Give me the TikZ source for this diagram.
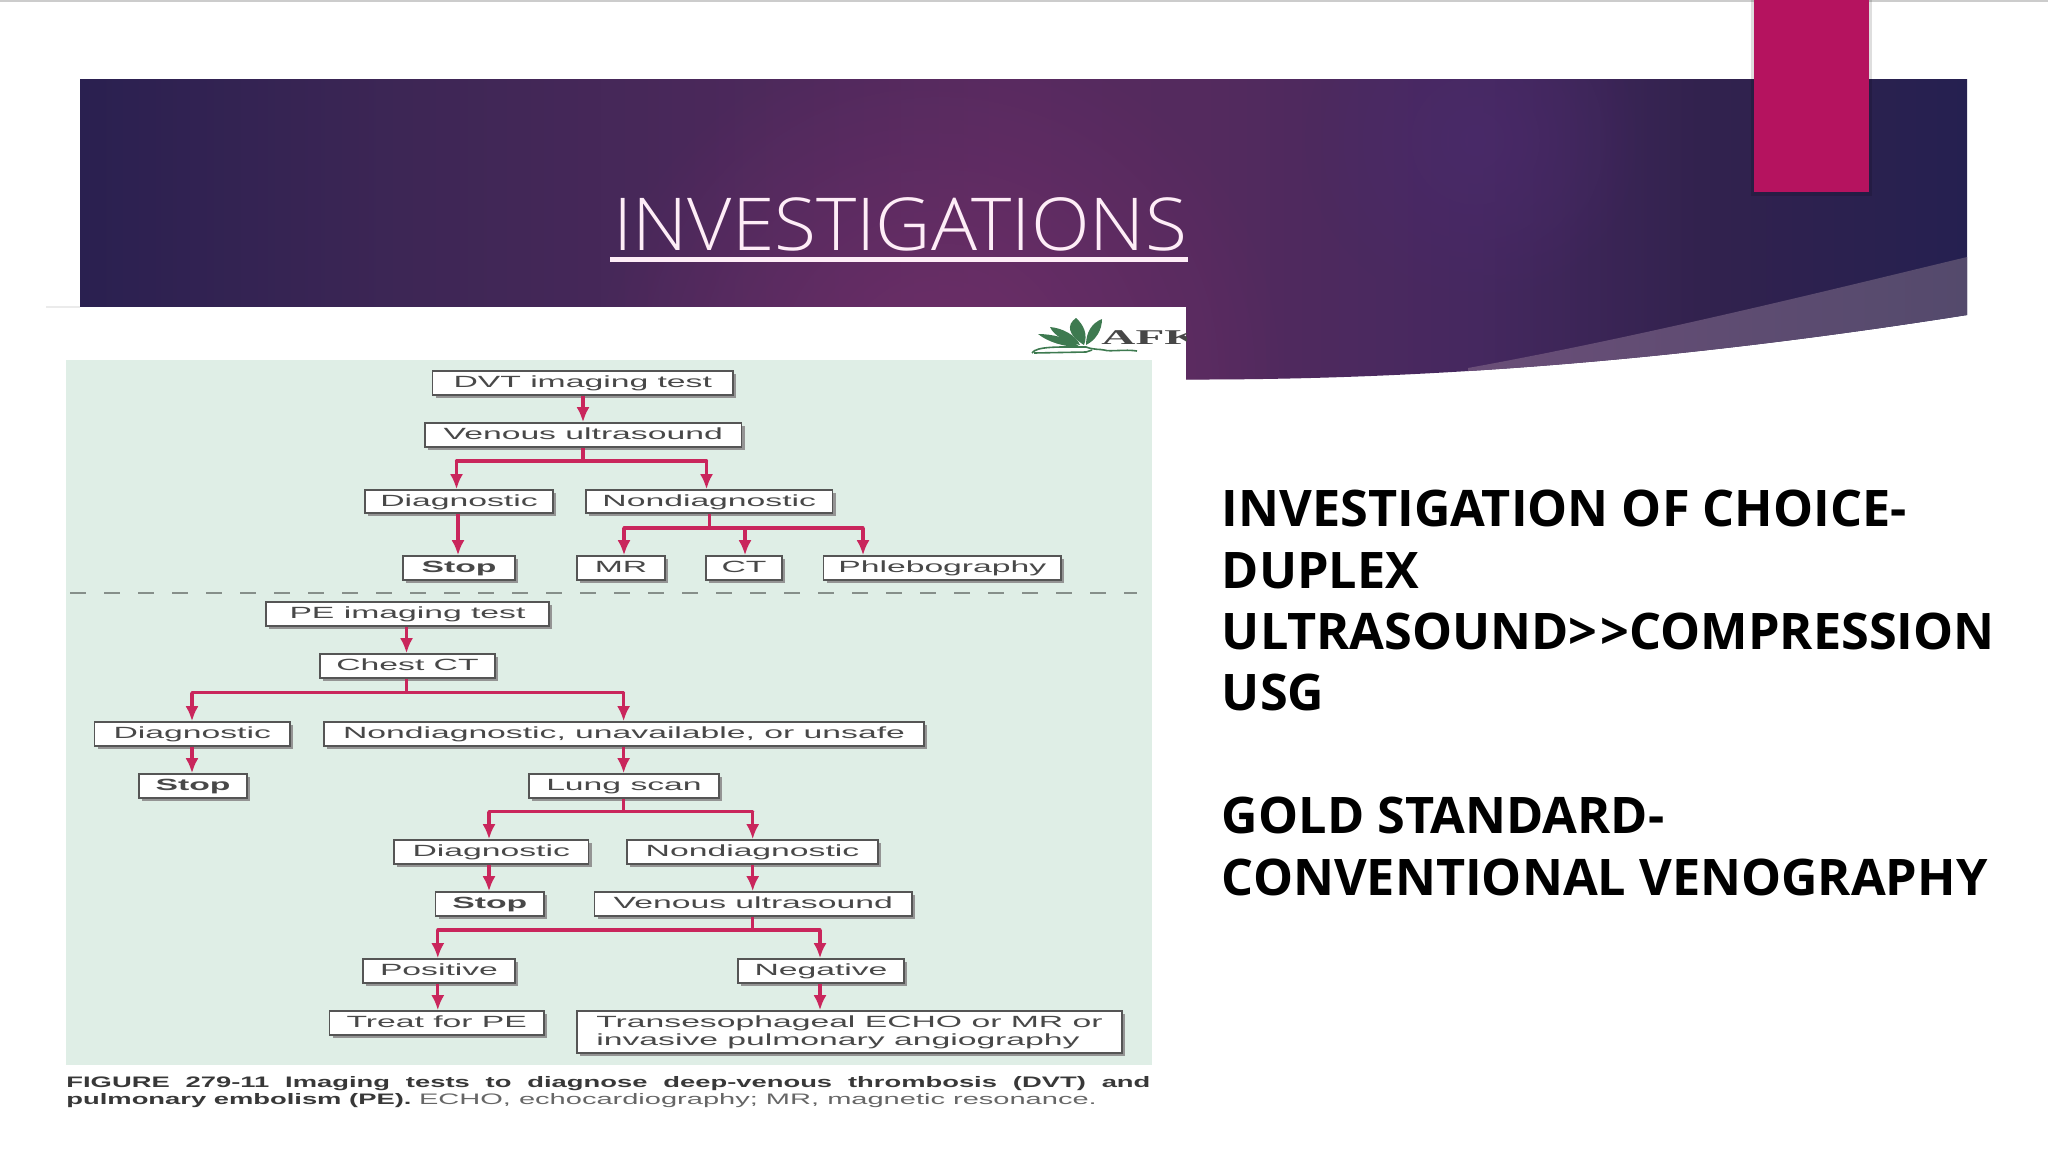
\documentclass[tikz,border=0pt]{standalone}
\usepackage{fontspec}
\usetikzlibrary{arrows.meta,fadings,calc,shadows}
\setmainfont{Open Sans}
\newfontfamily\figfont[FakeStretch=2.08]{Liberation Sans}
\newfontfamily\capfont[FakeStretch=1.8]{Liberation Sans}
\newfontfamily\capregfont[FakeStretch=1.91]{Liberation Sans}
\newfontfamily\logofont[FakeStretch=2.25]{Liberation Serif}
\newfontfamily\titlefont[FakeStretch=1.05]{Open Sans Light}
\definecolor{bnA}{HTML}{2A2050}
\definecolor{bnB}{HTML}{3D2655}
\definecolor{bnC}{HTML}{4E295C}
\definecolor{bnD}{HTML}{562A5F}
\definecolor{bnE}{HTML}{542A5E}
\definecolor{bnF}{HTML}{45285F}
\definecolor{bnG}{HTML}{32224E}
\definecolor{bnH}{HTML}{252050}
\definecolor{spotA}{HTML}{74306A}
\definecolor{spotB}{HTML}{4A2A6A}
\definecolor{swA}{HTML}{6A4E78}
\definecolor{swB}{HTML}{544A6C}
\pgfdeclarehorizontalshading{bannershade}{100bp}{color(0bp)=(bnA); color(25bp)=(bnA); color(33.5bp)=(bnB); color(44.1bp)=(bnC); color(49.4bp)=(bnD); color(54.7bp)=(bnE); color(62bp)=(bnF); color(67.9bp)=(bnG); color(75bp)=(bnH); color(100bp)=(bnH)}
\definecolor{magbar}{HTML}{B5135F}
\definecolor{panelgreen}{HTML}{DFEEE6}
\definecolor{connred}{HTML}{C9265C}
\definecolor{boxline}{HTML}{555555}
\definecolor{boxtext}{HTML}{484848}
\definecolor{leafgreen}{HTML}{3E7A50}
\tikzfading[name=softspot, inner color=transparent!20, outer color=transparent!100]
\tikzset{
  figbox/.style={draw=boxline, fill=white, line width=0.8pt, inner sep=0pt, text=boxtext,
     font=\figfont\fontsize{8.1}{9}\selectfont,
     general shadow={fill=black!42, shadow xshift=1.5pt, shadow yshift=-1.5pt}},
  stem/.style={draw=connred, line width=1.6pt},
  conn/.style={draw=connred, line width=1.6pt, -{Latex[length=7.5pt,width=6.5pt]}},
  leaf/.style={fill=leafgreen, draw=none},
}
\newcommand{\figbox}[6]{%
  \pgfmathsetmacro{\bxw}{(#4-#2)*0.5}\pgfmathsetmacro{\bxh}{(#5-#3)*0.5}%
  \node[figbox, minimum width=\bxw pt, minimum height=\bxh pt] (#1) at ({(#2+#4)/2},{(#3+#5)/2}) {\rule[-1.8pt]{0pt}{8.5pt}#6};}
\begin{document}
\begin{tikzpicture}[x=0.5pt,y=-0.5pt]
\useasboundingbox (0,0) rectangle (2048,1152);
\fill[white] (0,0) rectangle (2048,1152);
\fill[black!20] (0,0) rectangle (2048,2);
% banner
\begin{scope}
\clip (80,79) -- (1967,79) -- (1967,315) .. controls (1650,365) and (1400,380) .. (1185,379.5) -- (80,379.5) -- cycle;
\shade[shading=bannershade] (80,79) rectangle (1967,380);
\fill[color=spotA, path fading=softspot] (940,375) circle (350);
\fill[color=spotB, path fading=softspot] (1475,140) circle (170);
\shade[left color=swA, right color=swB] (1967,257) .. controls (1850,285) and (1650,335) .. (1468,368) -- (1468,385) -- (1967,385) -- cycle;
\end{scope}
% magenta bar
\fill[black, opacity=0.13] (1751,0) rectangle (1872,196);
\fill[magbar] (1754,0) rectangle (1869,192);
% title
\node[anchor=base, text=white!93!magenta, inner sep=0pt, font=\titlefont\fontsize{36.5}{40}\selectfont] (title) at (900,250.5) {INVESTIGATIONS};
\fill[white!93!magenta] (610,257) rectangle (1188,261.5);
% picture sheet
\fill[white] (46,307) rectangle (1186,1125);
\fill[black!8] (46,306) rectangle (80,308);
\fill[panelgreen] (66,360) rectangle (1152,1065);
% logo
\begin{scope}
\clip (46,307) rectangle (1186,1125);
\node[anchor=base west, inner sep=0pt, text=black!72, font=\logofont\bfseries\fontsize{10.5}{12}\selectfont] (afk) at (1101,344) {AFK};
\end{scope}
\fill[leaf] (1084,345) .. controls (1068,335) and (1066,325) .. (1076,318) .. controls (1084,325) and (1088,335) .. (1084,345) -- cycle;
\fill[leaf] (1086,345) .. controls (1086,332) and (1092,323) .. (1102,319) .. controls (1102,330) and (1096,340) .. (1086,345) -- cycle;
\fill[leaf] (1080,345) .. controls (1066,342) and (1054,336) .. (1050,327) .. controls (1062,328) and (1076,335) .. (1080,345) -- cycle;
\fill[leaf] (1080,347) .. controls (1064,347) and (1048,342) .. (1038,334) .. controls (1052,334) and (1070,338) .. (1080,347) -- cycle;
\draw[leafgreen, line width=0.8pt] (1032,353) .. controls (1036,346) and (1060,347) .. (1086,347) .. controls (1094,350) and (1100,349) .. (1104,350) .. controls (1110,352) and (1125,349) .. (1137,351);
\draw[leafgreen, line width=0.8pt] (1034,353) -- (1086,352) -- (1092,350);
% boxes top
\figbox{dvt}{432.5}{371}{733}{395}{DVT imaging test}
\figbox{ven}{425}{423}{741.5}{447}{Venous ultrasound}
\figbox{dg}{365}{490}{553}{513}{Diagnostic}
\figbox{nd}{586}{490}{832.5}{513}{Nondiagnostic}
\figbox{stopa}{403}{556}{515}{580}{\bfseries Stop}
\figbox{mr}{577}{556}{665}{580}{MR}
\figbox{ct}{706}{556}{782}{580}{CT}
\figbox{phl}{823.6}{556}{1061}{580}{Phlebography}
\draw[draw=black!40!panelgreen, line width=1.2pt, dash pattern=on 8pt off 9pt] (70,592.7) -- (1137,592.7);
% boxes bottom
\figbox{pe}{266}{602}{549}{626}{PE imaging test}
\figbox{cct}{320}{654}{495}{678}{Chest CT}
\figbox{dgb}{94.5}{722}{290}{746}{Diagnostic}
\figbox{ndb}{324}{722}{924}{746}{Nondiagnostic, unavailable, or unsafe}
\figbox{stopb}{139}{774}{247}{798}{\bfseries Stop}
\figbox{lung}{529}{774}{719}{798}{Lung scan}
\figbox{dgc}{394}{840}{588.5}{864}{Diagnostic}
\figbox{ndc}{627}{840}{878}{864}{Nondiagnostic}
\figbox{stopc}{435.5}{892}{544}{916}{\bfseries Stop}
\figbox{venb}{594.5}{892}{912}{916}{Venous ultrasound}
\figbox{pos}{363}{959}{515}{983}{Positive}
\figbox{neg}{738}{959}{904}{983}{Negative}
\figbox{treat}{329.5}{1011}{544}{1035}{Treat for PE}
\node[figbox, minimum width=272.5pt, minimum height=21pt, align=left] (tee) at (849.5,1032) {Transesophageal ECHO or MR or\\invasive pulmonary angiography};
% junctions
\coordinate (xa) at (583,0);
\coordinate (ja) at (583,461);
\coordinate (jal) at (456.5,461);
\coordinate (jar) at (706.5,461);
\coordinate (xb) at (458,0);
\coordinate (jb) at (709.5,528);
\coordinate (jbl) at (624,528);
\coordinate (jbm) at (745,528);
\coordinate (jbr) at (863,528);
\coordinate (xc) at (406.5,0);
\coordinate (jc) at (406.5,692.7);
\coordinate (jcl) at (192,692.7);
\coordinate (jcr) at (623.6,692.7);
\coordinate (jd) at (623.6,811.7);
\coordinate (jdl) at (489,811.7);
\coordinate (jdr) at (752.7,811.7);
\coordinate (je) at (752.7,930);
\coordinate (jel) at (437.8,930);
\coordinate (jer) at (820,930);
% connectors
\draw[conn] (dvt.south -| xa) -- (ven.north -| xa);
\draw[stem] (ven.south -| ja) -- (ja);
\draw[stem, line cap=round] (jal) -- (jar);
\draw[conn] (jal) -- (dg.north -| jal);
\draw[conn] (jar) -- (nd.north -| jar);
\draw[conn] (dg.south -| xb) -- (stopa.north -| xb);
\draw[stem] (nd.south -| jb) -- (jb);
\draw[stem, line cap=round] (jbl) -- (jbr);
\draw[conn] (jbl) -- (mr.north -| jbl);
\draw[conn] (jbm) -- (ct.north -| jbm);
\draw[conn] (jbr) -- (phl.north -| jbr);
\draw[conn] (pe.south -| xc) -- (cct.north -| xc);
\draw[stem] (cct.south -| jc) -- (jc);
\draw[stem, line cap=round] (jcl) -- (jcr);
\draw[conn] (jcl) -- (dgb.north -| jcl);
\draw[conn] (jcr) -- (ndb.north -| jcr);
\draw[conn] (dgb.south -| jcl) -- (stopb.north -| jcl);
\draw[conn] (ndb.south -| jcr) -- (lung.north -| jcr);
\draw[stem] (lung.south -| jd) -- (jd);
\draw[stem, line cap=round] (jdl) -- (jdr);
\draw[conn] (jdl) -- (dgc.north -| jdl);
\draw[conn] (jdr) -- (ndc.north -| jdr);
\draw[conn] (dgc.south -| jdl) -- (stopc.north -| jdl);
\draw[conn] (ndc.south -| jdr) -- (venb.north -| jdr);
\draw[stem] (venb.south -| je) -- (je);
\draw[stem, line cap=round] (jel) -- (jer);
\draw[conn] (jel) -- (pos.north -| jel);
\draw[conn] (jer) -- (neg.north -| jer);
\draw[conn] (pos.south -| jel) -- (treat.north -| jel);
\draw[conn] (neg.south -| jer) -- (tee.north -| jer);
% caption
\node[anchor=base west, inner sep=0pt, text=black!78, font=\capfont\bfseries\fontsize{7.6}{9}\selectfont] (capa) at (66,1087) {\makebox[542pt][s]{FIGURE 279-11 Imaging tests to diagnose deep-venous thrombosis (DVT) and}};
\node[anchor=base west, inner sep=0pt, text=black!78, font=\capfont\fontsize{7.6}{9}\selectfont] (capb) at (66,1104) {\textbf{pulmonary embolism (PE).} \textcolor{black!60}{\capregfont ECHO, echocardiography; MR, magnetic resonance.}};
% body text
\node[anchor=base west, inner sep=0pt, align=left, text=black, font=\bfseries\fontsize{25.2}{30.67}\selectfont] (body) at (1221.5,895) {INVESTIGATION OF CHOICE-\\DUPLEX\\ULTRASOUND>\kern1.5pt>COMPRESSION\\USG\\[30.67pt]GOLD STANDARD-\\CONVENTIONAL VENOGRAPHY};
\end{tikzpicture}
\end{document}
